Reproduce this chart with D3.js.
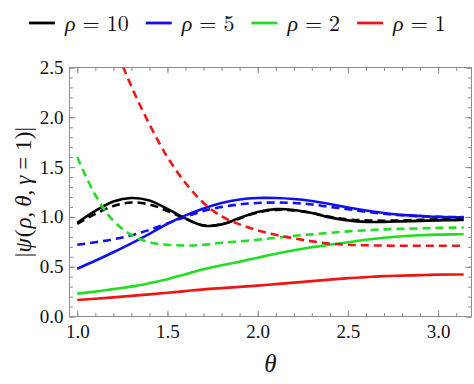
<!DOCTYPE html>
<html>
<head>
<meta charset="utf-8">
<script src="https://cdn.jsdelivr.net/npm/d3@7"></script>
<style>
body { margin: 0; background: #fff; }
</style>
</head>
<body>
<svg id="chart" width="474" height="384"></svg>
<script>
// sample points along theta (last one is pi)
let theta = [1.0, 1.1, 1.2, 1.3, 1.4, 1.5, 1.6, 1.7, 1.8, 1.9, 2.0, 2.1, 2.2, 2.3, 2.4, 2.5, 2.6, 2.7, 2.8, 2.9, 3.0, 3.1, 3.1416];

let rhoLabels = ["10", "5", "2", "1"];
let colors = ["#000000", "#1010ee", "#22dd22", "#ee1515"];

// solid curves
let solid10 = [0.94, 1.06, 1.155, 1.19, 1.165, 1.08, 0.985, 0.912, 0.925, 0.99, 1.05, 1.078, 1.07, 1.04, 0.995, 0.965, 0.95, 0.95, 0.955, 0.96, 0.965, 0.968, 0.97];
let solid5  = [0.48, 0.56, 0.645, 0.735, 0.83, 0.93, 1.015, 1.085, 1.14, 1.175, 1.19, 1.19, 1.18, 1.16, 1.13, 1.095, 1.065, 1.04, 1.02, 1.01, 1.0, 0.996, 0.995];
let solid2  = [0.23, 0.25, 0.275, 0.30, 0.335, 0.375, 0.425, 0.475, 0.515, 0.55, 0.59, 0.63, 0.665, 0.695, 0.72, 0.745, 0.77, 0.79, 0.805, 0.815, 0.822, 0.825, 0.826];
let solid1  = [0.165, 0.178, 0.192, 0.207, 0.222, 0.238, 0.255, 0.272, 0.285, 0.297, 0.31, 0.325, 0.34, 0.355, 0.37, 0.385, 0.395, 0.405, 0.41, 0.415, 0.42, 0.421, 0.421];

// dashed curves
let dashed10 = [0.93, 1.03, 1.11, 1.145, 1.125, 1.06, 0.98, 0.915, 0.925, 0.985, 1.045, 1.07, 1.065, 1.04, 1.0, 0.975, 0.965, 0.962, 0.965, 0.97, 0.975, 0.977, 0.978];
let dashed5  = [0.72, 0.745, 0.775, 0.815, 0.87, 0.935, 1.0, 1.06, 1.1, 1.125, 1.14, 1.145, 1.14, 1.125, 1.1, 1.078, 1.052, 1.032, 1.016, 1.006, 1.0, 0.998, 0.998];
let dashed2  = [1.6, 1.22, 0.96, 0.82, 0.745, 0.72, 0.713, 0.72, 0.74, 0.755, 0.77, 0.79, 0.81, 0.825, 0.84, 0.855, 0.865, 0.875, 0.88, 0.885, 0.89, 0.892, 0.893];
let dashed1  = [null, null, 2.75, 2.31, 1.93, 1.6, 1.34, 1.14, 1.005, 0.925, 0.865, 0.82, 0.785, 0.755, 0.732, 0.72, 0.715, 0.712, 0.71, 0.71, 0.71, 0.71, 0.71];

let xMajor = [1.0, 1.5, 2.0, 2.5, 3.0];
let yMajor = [0.0, 0.5, 1.0, 1.5, 2.0, 2.5];

let solids = [solid10, solid5, solid2, solid1];
let dashes = [dashed10, dashed5, dashed2, dashed1];

let serif = "'Liberation Serif'";
let lmodern = "'Latin Modern Roman'";
let svg = d3.select("#chart");

let x = d3.scaleLinear().domain([0.957, 3.185]).range([69.5, 471.5]);
let y = d3.scaleLinear().domain([0, 2.5]).range([316.5, 67.5]);

let xMinor = d3.range(10, 32).map(function(d) { return d / 10; });
let yMinor = d3.range(0, 26).map(function(d) { return d / 10; });

svg.append("defs").append("clipPath")
	.attr("id", "plotclip")
	.append("rect")
	.attr("x", x.range()[0])
	.attr("y", y.range()[1])
	.attr("width", x.range()[1] - x.range()[0])
	.attr("height", y.range()[0] - y.range()[1]);

// frame and ticks
function styleAxis(g) {
	g.attr("font-family", null).attr("font-size", null);
	g.select(".domain").remove();
	g.selectAll(".tick line").attr("stroke", "#8c8c8c");
	g.selectAll("text")
		.style("font-family", serif)
		.style("font-size", "19px")
		.attr("fill", "#111");
}

let fmt = d3.format(".1f");

svg.append("g").attr("transform", "translate(0," + y(0) + ")")
	.call(d3.axisBottom(x).tickValues(xMinor).tickSize(-3.5).tickFormat(""))
	.call(styleAxis);
svg.append("g").attr("transform", "translate(0," + y(0) + ")")
	.call(d3.axisBottom(x).tickValues(xMajor).tickSize(-6).tickPadding(8).tickFormat(fmt))
	.call(styleAxis);
svg.append("g").attr("transform", "translate(0," + y(2.5) + ")")
	.call(d3.axisTop(x).tickValues(xMinor).tickSize(-3.5).tickFormat(""))
	.call(styleAxis);
svg.append("g").attr("transform", "translate(0," + y(2.5) + ")")
	.call(d3.axisTop(x).tickValues(xMajor).tickSize(-6).tickFormat(""))
	.call(styleAxis);

svg.append("g").attr("transform", "translate(" + x.range()[0] + ",0)")
	.call(d3.axisLeft(y).tickValues(yMinor).tickSize(-3.5).tickFormat(""))
	.call(styleAxis);
svg.append("g").attr("transform", "translate(" + x.range()[0] + ",0)")
	.call(d3.axisLeft(y).tickValues(yMajor).tickSize(-6).tickPadding(6).tickFormat(fmt))
	.call(styleAxis);
svg.append("g").attr("transform", "translate(" + x.range()[1] + ",0)")
	.call(d3.axisRight(y).tickValues(yMinor).tickSize(-3.5).tickFormat(""))
	.call(styleAxis);
svg.append("g").attr("transform", "translate(" + x.range()[1] + ",0)")
	.call(d3.axisRight(y).tickValues(yMajor).tickSize(-6).tickFormat(""))
	.call(styleAxis);

svg.append("rect")
	.attr("x", x.range()[0])
	.attr("y", y.range()[1])
	.attr("width", x.range()[1] - x.range()[0])
	.attr("height", y.range()[0] - y.range()[1])
	.attr("fill", "none")
	.attr("stroke", "#8c8c8c")
	.attr("stroke-width", 1);

// curves
let line = d3.line()
	.defined(function(d) { return d[1] != null; })
	.x(function(d) { return x(d[0]); })
	.y(function(d) { return y(d[1]); })
	.curve(d3.curveCatmullRom.alpha(0.5));

let plot = svg.append("g").attr("clip-path", "url(#plotclip)");

function drawSet(sets, dash) {
	sets.forEach(function(vals, i) {
		let pts = theta.map(function(t, j) { return [t, vals[j]]; });
		plot.append("path")
			.attr("d", line(pts))
			.attr("fill", "none")
			.attr("stroke", colors[i])
			.attr("stroke-width", 2.6)
			.attr("stroke-dasharray", dash);
	});
}
drawSet(solids, null);
drawSet(dashes, "8,5");

// axis labels
svg.append("text")
	.attr("x", (x.range()[0] + x.range()[1]) / 2)
	.attr("y", 372)
	.attr("text-anchor", "middle")
	.style("font-family", serif)
	.style("font-size", "25px")
	.style("font-style", "italic")
	.attr("fill", "#111")
	.text("θ");

let ylab = svg.append("text")
	.attr("transform", "translate(31," + (y.range()[0] + y.range()[1]) / 2 + ") rotate(-90)")
	.attr("text-anchor", "middle")
	.style("font-family", serif)
	.style("font-size", "23px")
	.attr("fill", "#111");
let ylabParts = [["|", false, 0], ["ψ", true, 0], ["(", false, 1], ["ρ", true, 1], [",", false, 0], ["θ", true, 5], [",", false, 0], ["γ", true, 5], ["=", false, 6], ["1)|", false, 6]];
ylabParts.forEach(function(p) {
	ylab.append("tspan")
		.style("font-style", p[1] ? "italic" : "normal")
		.attr("dx", p[2])
		.text(p[0]);
});

// legend
let legX = 29;
rhoLabels.forEach(function(lab, i) {
	let g = svg.append("g").attr("transform", "translate(" + legX + ",0)");
	g.append("line")
		.attr("x1", 0).attr("x2", 26)
		.attr("y1", 23).attr("y2", 23)
		.attr("stroke", colors[i])
		.attr("stroke-width", 2.8);
	let t = g.append("text")
		.attr("x", 36)
		.attr("y", 31)
		.style("font-size", "22px")
		.attr("fill", "#111");
	t.append("tspan").style("font-family", serif).style("font-style", "italic").text("ρ");
	t.append("tspan").style("font-family", lmodern).attr("dx", 7).text("=");
	t.append("tspan").style("font-family", lmodern).attr("dx", 7).text(lab);
	let w = t.node().getComputedTextLength() + 14;
	legX += 36 + w + 17;
});
</script>
</body>
</html>
